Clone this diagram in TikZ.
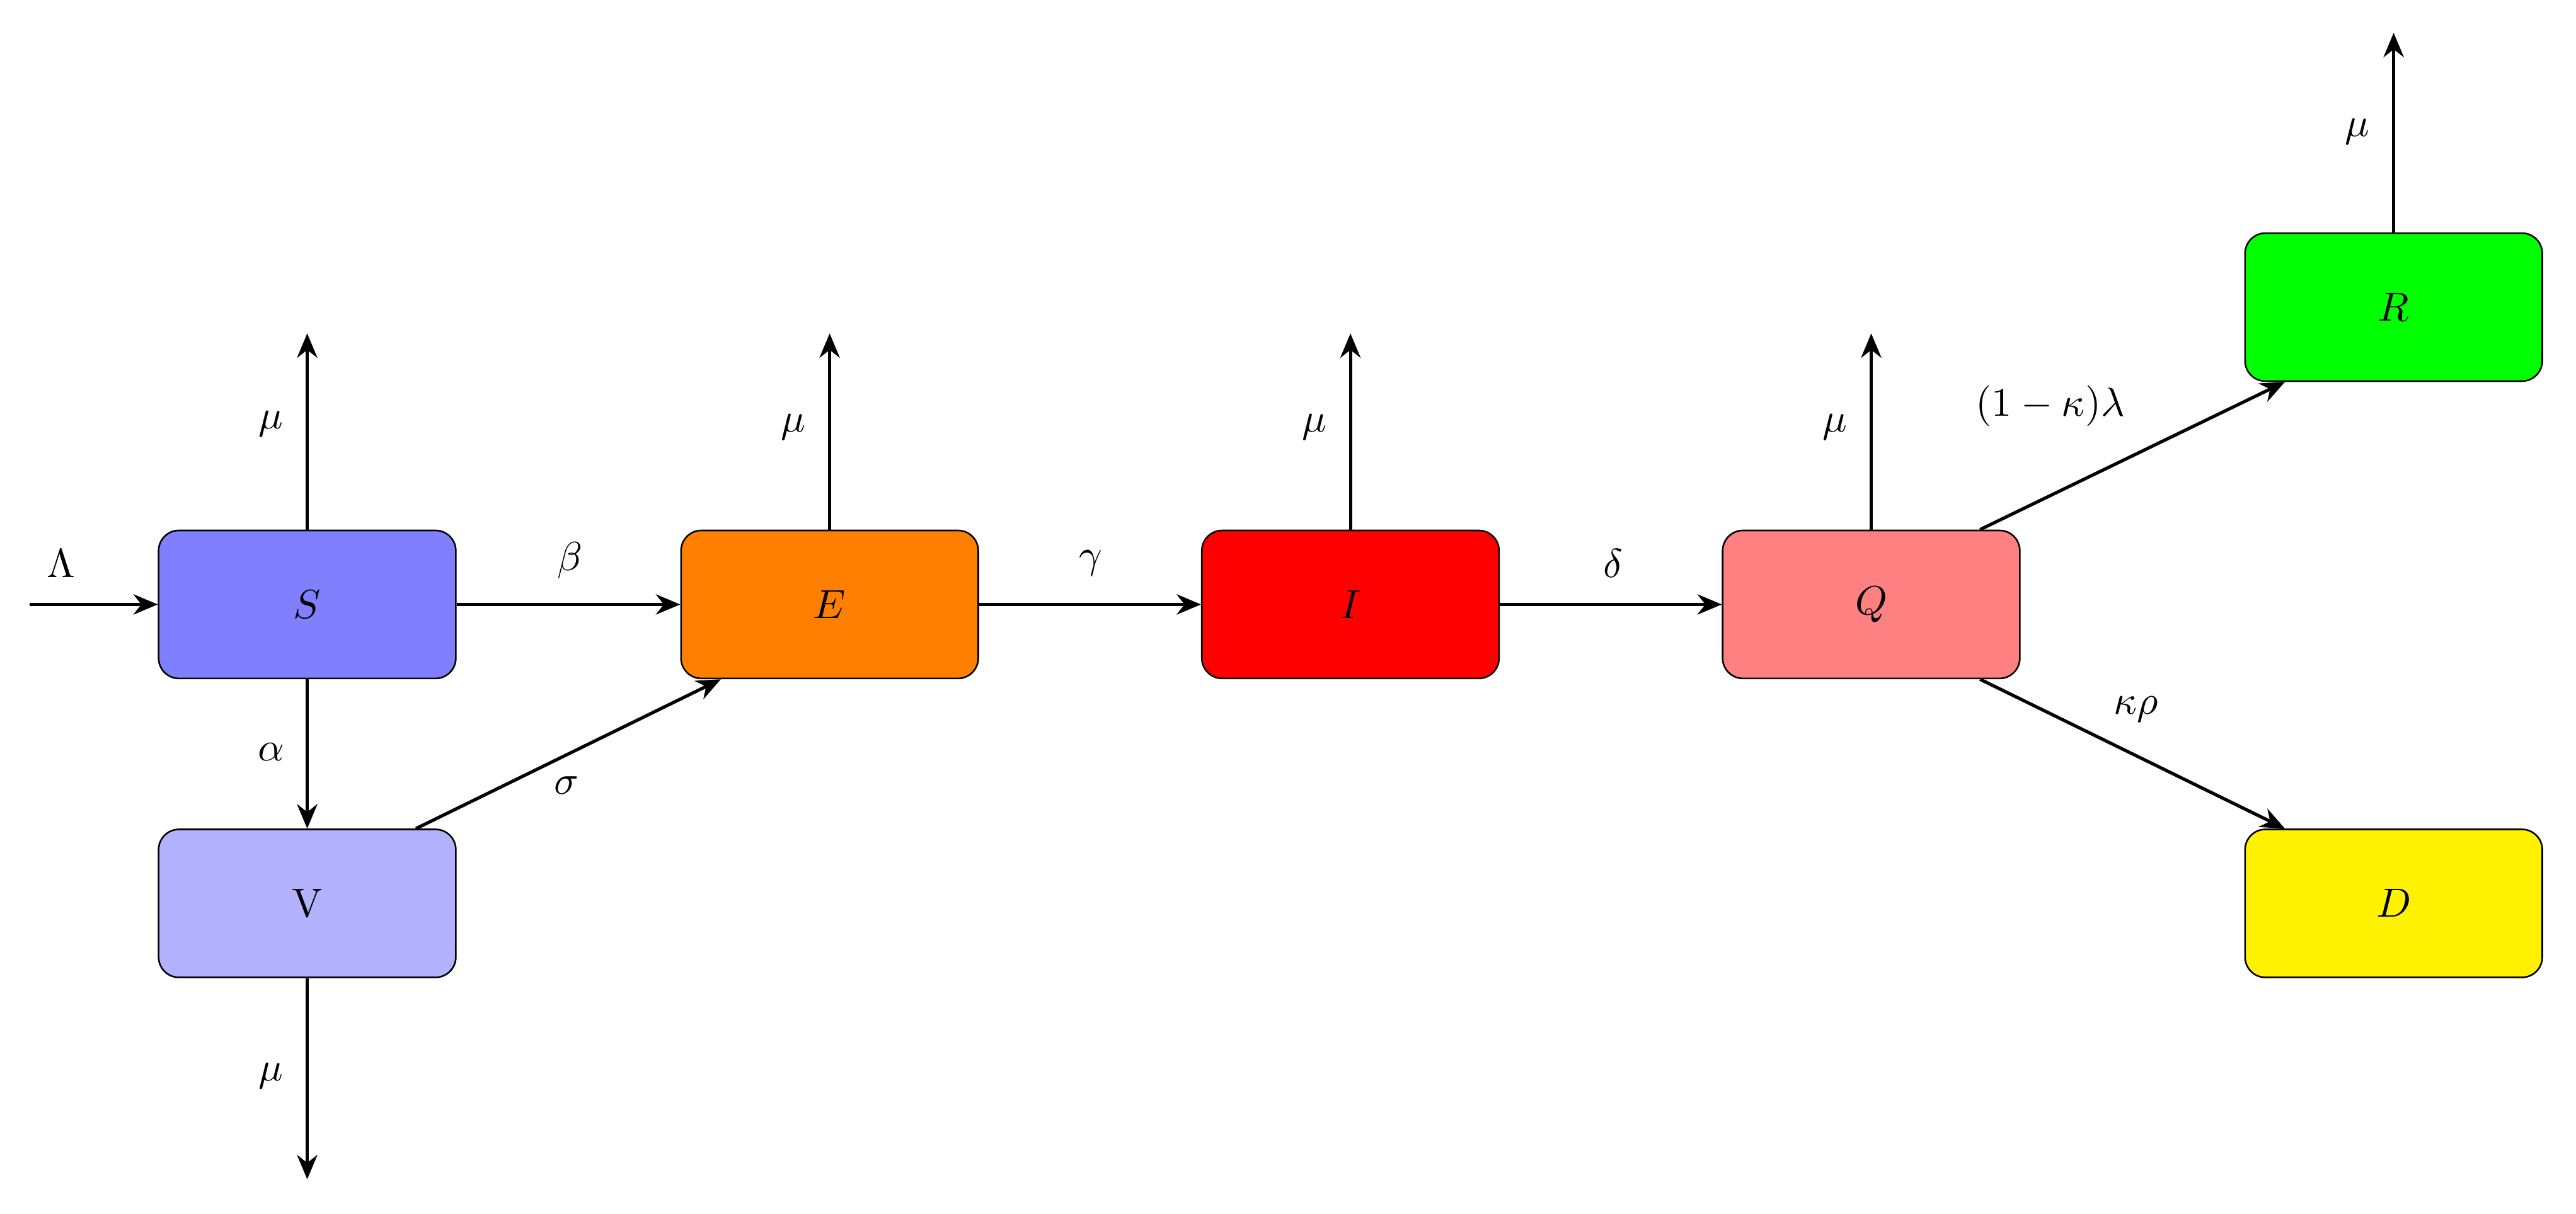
\documentclass[tikz,border=0pt]{standalone}
\usetikzlibrary{arrows.meta}
\begin{document}
\begin{tikzpicture}[x=0.0142cm,y=-0.0142cm,
  box/.style={draw,rounded corners=5pt,minimum width=2.57cm,minimum height=1.28cm,inner sep=0pt},
  arr/.style={thick,-{Stealth[length=6pt,width=5pt]}}]
\useasboundingbox (0,0) rectangle (1568,739);
\node[box,fill=blue!50] (S) at (187,368) {$S$};
\node[box,fill=orange] (E) at (505,368) {$E$};
\node[box,fill=red] (I) at (822,368) {$I$};
\node[box,fill=red!50] (Q) at (1139,368) {$Q$};
\node[box,fill=green] (R) at (1457,187) {$R$};
\node[box,fill=yellow] (D) at (1457,550) {$D$};
\node[box,fill=blue!30] (V) at (187,550) {V};
\coordinate (in) at (18,368);
\coordinate (Su) at (187,203);
\coordinate (Eu) at (505,203);
\coordinate (Iu) at (822,203);
\coordinate (Qu) at (1139,203);
\coordinate (Ru) at (1457,20);
\coordinate (Vd) at (187,718);
\draw[arr] (in) -- (S);
\draw[arr] (S) -- (E);
\draw[arr] (E) -- (I);
\draw[arr] (I) -- (Q);
\draw[arr] (S) -- (V);
\draw[arr] (S.north) -- (Su);
\draw[arr] (E.north) -- (Eu);
\draw[arr] (I.north) -- (Iu);
\draw[arr] (Q.north) -- (Qu);
\draw[arr] (R.north) -- (Ru);
\draw[arr] (V.south) -- (Vd);
\draw[arr] ([xshift=-10]V.north east) -- ([xshift=10]E.south west);
\draw[arr] ([xshift=-10]Q.north east) -- ([xshift=10]R.south west);
\draw[arr] ([xshift=-10]Q.south east) -- ([xshift=10]D.north west);
\node (l1) at (37,343) {$\Lambda$};
\node (l2) at (347,341) {$\beta$};
\node (l3) at (664,343) {$\gamma$};
\node (l4) at (982,343) {$\delta$};
\node (l5) at (165,258) {$\mu$};
\node (l6) at (483,260) {$\mu$};
\node (l7) at (800,260) {$\mu$};
\node (l8) at (1117,260) {$\mu$};
\node (l9) at (1435,80) {$\mu$};
\node (l10) at (165,655) {$\mu$};
\node (l11) at (165,458) {$\alpha$};
\node (l12) at (345,478) {$\sigma$};
\node (l13) at (1248,247) {$(1-\kappa)\lambda$};
\node (l14) at (1300,432) {$\kappa\rho$};
\end{tikzpicture}
\end{document}
